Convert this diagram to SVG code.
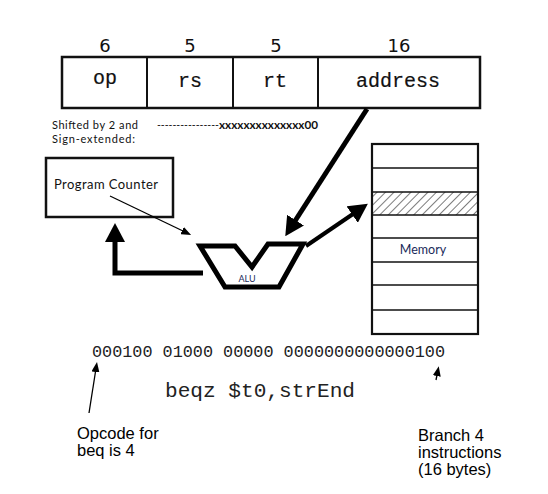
<svg xmlns="http://www.w3.org/2000/svg" width="548" height="494" viewBox="0 0 548 494">
<style>
.num{font-family:"DejaVu Sans",sans-serif;font-size:18px;fill:#111;text-anchor:middle}
.fld{font-family:"Liberation Mono","Courier New",monospace;font-size:20px;fill:#111;stroke:#111;stroke-width:0.2;text-anchor:middle}
.cal{font-family:Lato,"Open Sans",sans-serif;fill:#111}
.ari{font-family:"Liberation Sans",Arial,sans-serif;font-size:16.5px;fill:#000}
.mono{font-family:"Liberation Mono","Courier New",monospace;fill:#222}
.box{fill:#fff;stroke:#111;stroke-width:2.5}
.row{stroke:#111;stroke-width:1.6}
.thick{fill:none;stroke:#000;stroke-width:5}
.thin{fill:none;stroke:#000;stroke-width:1.3}
</style>
<defs>
<marker id="bighead" markerUnits="userSpaceOnUse" markerWidth="19" markerHeight="20" refX="1" refY="10" orient="auto">
<path d="M0,0 L19,10 L0,20 z" fill="#000"/>
</marker>
<marker id="smallhead" markerUnits="userSpaceOnUse" markerWidth="10" markerHeight="8" refX="1" refY="4" orient="auto">
<path d="M0,0 L10,4 L0,8 z" fill="#000"/>
</marker>
<pattern id="hatch" patternUnits="userSpaceOnUse" width="6" height="6" patternTransform="rotate(45)">
<line x1="0" y1="0" x2="0" y2="6" stroke="#222" stroke-width="1.2"/>
</pattern>
</defs>
<rect width="548" height="494" fill="#fff"/>

<g id="instruction-format">
<rect class="box" x="62" y="57" width="418" height="51"/>
<line class="row" x1="147" y1="57" x2="147" y2="108" style="stroke-width:2"/>
<line class="row" x1="233" y1="57" x2="233" y2="108" style="stroke-width:2"/>
<line class="row" x1="318" y1="57" x2="318" y2="108" style="stroke-width:2"/>
<text class="num" x="105" y="52">6</text>
<text class="num" x="190" y="52">5</text>
<text class="num" x="276" y="52">5</text>
<text class="num" x="399" y="52">16</text>
<text class="fld" x="105" y="84">op</text>
<text class="fld" x="190" y="87">rs</text>
<text class="fld" x="275" y="87">rt</text>
<text class="fld" x="398" y="87">address</text>
</g>

<g id="shift-note">
<text class="cal" x="52" y="129" font-size="11" textLength="86">Shifted by 2 and</text>
<text class="cal" x="52" y="143" font-size="11" textLength="83">Sign-extended:</text>
<text class="cal" x="157" y="129" font-size="11" textLength="62" lengthAdjust="spacingAndGlyphs">----------------</text>
<text class="cal" x="219" y="129" font-size="12" font-weight="bold" textLength="99" lengthAdjust="spacingAndGlyphs">xxxxxxxxxxxxxx00</text>
</g>

<g id="program-counter">
<rect class="box" x="46" y="158" width="127" height="59"/>
<text class="cal" x="54" y="189" font-size="13" fill="#1a1a40" textLength="104">Program Counter</text>
</g>

<g id="alu">
<polygon points="200,246 235,246 252,267 268,244 303,244 279,287 225,287" fill="#fff" stroke="#000" stroke-width="5" stroke-linejoin="miter"/>
<text x="247" y="282" font-family="Lato,'Open Sans',sans-serif" font-size="9" fill="#1a2a5a" text-anchor="middle">ALU</text>
</g>

<g id="memory">
<rect class="box" x="372" y="144" width="106" height="190" style="stroke-width:2.2"/>
<rect x="373" y="192" width="104" height="23" fill="url(#hatch)"/>
<line class="row" x1="372" y1="168" x2="478" y2="168"/>
<line class="row" x1="372" y1="192" x2="478" y2="192"/>
<line class="row" x1="372" y1="215" x2="478" y2="215"/>
<line class="row" x1="372" y1="238" x2="478" y2="238"/>
<line class="row" x1="372" y1="262" x2="478" y2="262"/>
<line class="row" x1="372" y1="285" x2="478" y2="285"/>
<line class="row" x1="372" y1="310" x2="478" y2="310"/>
<text x="423" y="254" font-family="Lato,'Open Sans',sans-serif" font-size="12.5" fill="#1a2a5a" text-anchor="middle">Memory</text>
</g>

<g id="encoding">
<text class="mono" x="92" y="357" font-size="16" textLength="353" lengthAdjust="spacingAndGlyphs">000100 01000 00000 0000000000000100</text>
<text class="mono" x="165" y="397" font-size="20" textLength="190" lengthAdjust="spacingAndGlyphs">beqz $t0,strEnd</text>
</g>

<g id="opcode-note">
<text class="ari" x="77" y="439">Opcode for</text>
<text class="ari" x="77" y="456">beq is 4</text>
</g>

<g id="branch-note">
<text class="ari" x="418" y="441">Branch 4</text>
<text class="ari" x="418" y="458">instructions</text>
<text class="ari" x="418" y="475">(16 bytes)</text>
</g>

<g id="connectors">
<line class="thick" x1="367" y1="109" x2="295" y2="221" marker-end="url(#bighead)"/>
<line class="thick" x1="306" y1="246" x2="353" y2="214" style="stroke-width:4" marker-end="url(#bighead)"/>
<path class="thick" d="M203,273 H115 V241" marker-end="url(#bighead)"/>
<line class="thin" x1="110" y1="196" x2="183" y2="231" marker-end="url(#smallhead)"/>
<line class="thin" x1="89" y1="413" x2="95.6" y2="371" marker-end="url(#smallhead)"/>
<line class="thin" x1="436" y1="380" x2="437" y2="375" marker-end="url(#smallhead)"/>
</g>
</svg>
